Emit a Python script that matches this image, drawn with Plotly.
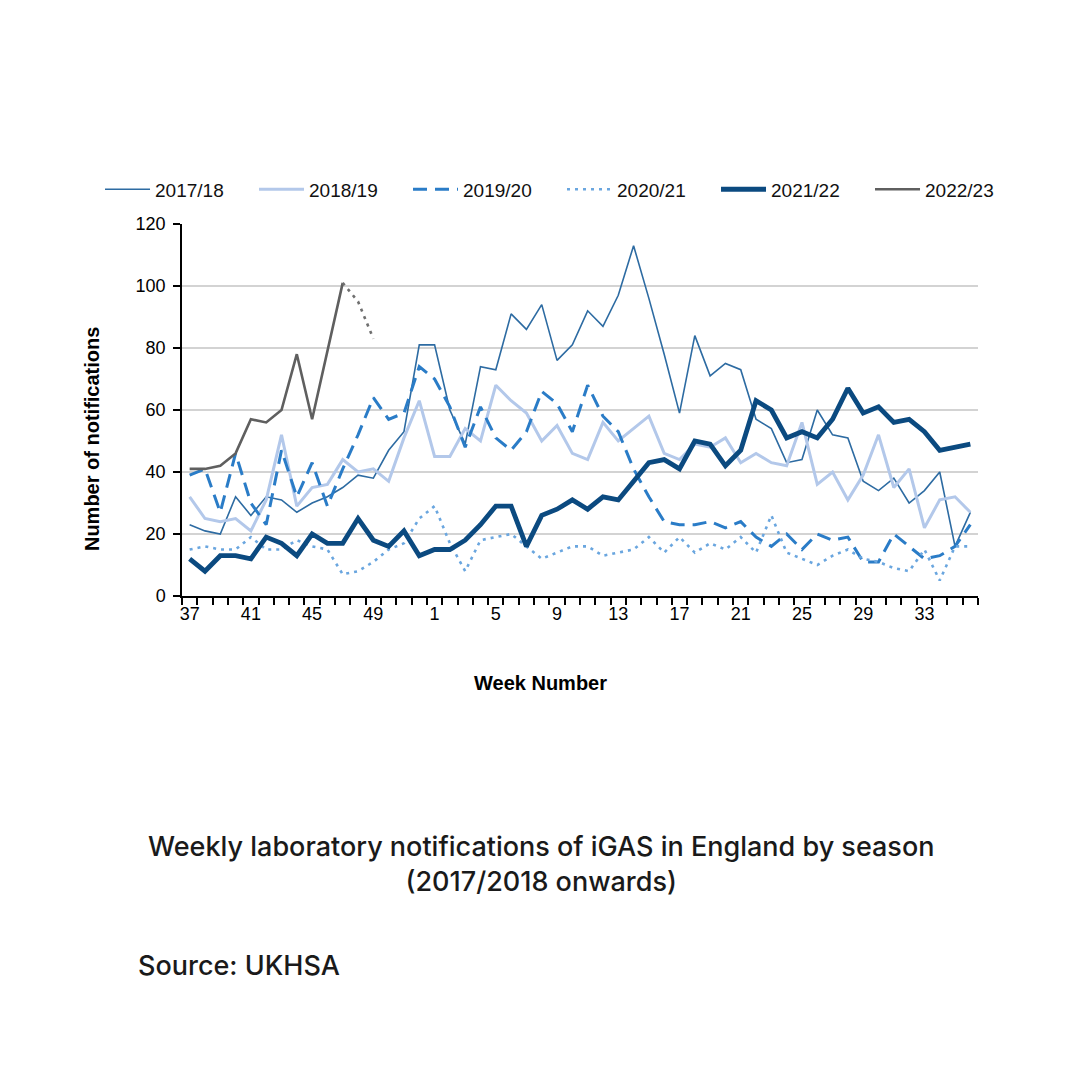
import plotly.graph_objects as go

weeks = list(range(37, 53)) + list(range(1, 37))
tick_weeks = [37, 41, 45, 49, 1, 5, 9, 13, 17, 21, 25, 29, 33]

s2017_18 = [23, 21, 20, 32, 26, 32, 31, 27, 30, 32, 35, 39, 38, 47, 53, 81,
            81, 60, 49, 74, 73, 91, 86, 94, 76, 81, 92, 87, 97, 113, 96, 78,
            59, 84, 71, 75, 73, 57, 54, 43, 44, 60, 52, 51, 37, 34, 38, 30,
            34, 40, 16, 27]
s2018_19 = [32, 25, 24, 25, 21, 31, 52, 29, 35, 36, 44, 40, 41, 37, 51, 63,
            45, 45, 54, 50, 68, 63, 59, 50, 55, 46, 44, 56, 50, 54, 58, 46,
            44, 49, 48, 51, 43, 46, 43, 42, 56, 36, 40, 31, 39, 52, 35, 41,
            22, 31, 32, 27]
s2019_20 = [39, 41, 27, 46, 30, 23, 47, 32, 43, 29, 41, 52, 64, 57, 59, 74,
            70, 61, 48, 61, 51, 47, 53, 66, 62, 53, 68, 58, 53, 41, 32, 24,
            23, 23, 24, 22, 24, 19, 16, 20, 15, 20, 18, 19, 11, 11, 20, 16,
            12, 13, 16, 23]
s2020_21 = [15, 16, 15, 15, 19, 15, 15, 18, 16, 15, 7, 8, 11, 15, 17, 25,
            29, 17, 8, 18, 19, 20, 16, 12, 14, 16, 16, 13, 14, 15, 19, 14,
            19, 14, 17, 15, 19, 14, 26, 14, 12, 10, 13, 15, 12, 11, 9, 8,
            15, 5, 16, 16]
s2021_22 = [12, 8, 13, 13, 12, 19, 17, 13, 20, 17, 17, 25, 18, 16, 21, 13,
            15, 15, 18, 23, 29, 29, 16, 26, 28, 31, 28, 32, 31, 37, 43, 44,
            41, 50, 49, 42, 47, 63, 60, 51, 53, 51, 57, 67, 59, 61, 56, 57,
            53, 47, 48, 49]
s2022_23 = [41, 41, 42, 46, 57, 56, 60, 78, 57, 79, 101]
s2022_23_provisional = [101, 95, 83]

pos = list(range(len(weeks)))
tick_pos = [weeks.index(w) for w in tick_weeks]

fig = go.Figure()

def add(name, y, color, width, dash="solid", start=0, showlegend=True):
    fig.add_trace(go.Scatter(
        x=pos[start:start + len(y)], y=y, mode="lines", name=name,
        line=dict(color=color, width=width, dash=dash),
        showlegend=showlegend, hoverinfo="skip"))

add("2017/18", s2017_18, "#2d6ba2", 1.6)
add("2018/19", s2018_19, "#b3c8ea", 3)
add("2019/20", s2019_20, "#2a7cc7", 3, dash="14px,8px")
add("2020/21", s2020_21, "#6aa6df", 2.6, dash="3px,5px")
add("2021/22", s2021_22, "#0b4a80", 4.8)
add("2022/23", s2022_23, "#5f5f5f", 2.6)
add("2022/23 provisional", s2022_23_provisional, "#6f6f6f", 2.6,
    dash="3px,5px", start=len(s2022_23) - 1, showlegend=False)

axis_font = dict(family="Liberation Sans, Arial, sans-serif", size=18, color="#000000")
title_font = dict(family="Liberation Sans, Arial", size=20, color="#000", weight="bold")
cap_font = dict(family="Inter, Lato, sans-serif", size=27, color="#1a1a1a", weight=500)

fig.update_layout(
    width=1080, height=1080,
    paper_bgcolor="white", plot_bgcolor="white",
    margin=dict(l=182, r=102, t=224, b=484),
    font=axis_font,
    legend=dict(orientation="h", x=-0.103, xanchor="left", y=1.093, yanchor="middle",
                font=dict(family="Liberation Sans, Arial", size=19, color="#111"),
                entrywidth=94, entrywidthmode="pixels", itemwidth=45,
                bgcolor="rgba(0,0,0,0)"),
    xaxis=dict(
        range=[-0.5, len(weeks) - 0.5],
        tickmode="array", tickvals=tick_pos, ticktext=[str(w) for w in tick_weeks],
        ticks="", showgrid=False, zeroline=False,
        showline=True, linecolor="#000", linewidth=2,
        tickfont=axis_font,
        minor=dict(tickmode="array", tickvals=[p - 0.5 for p in pos] + [len(weeks) - 0.5],
                   ticks="outside", ticklen=7, tickwidth=1.5, tickcolor="#000", showgrid=False),
    ),
    yaxis=dict(
        range=[0, 120], dtick=20, tick0=0,
        showgrid=True, gridcolor="#d3d3d3", gridwidth=1.6,
        zeroline=False,
        showline=True, linecolor="#000", linewidth=1.5,
        ticks="outside", ticklen=7, tickwidth=1.5, tickcolor="#000",
        tickfont=axis_font, ticklabelstandoff=4,
    ),
    annotations=[
        dict(text="Week Number", xref="paper", yref="paper", x=0.451, y=-0.234,
             xanchor="center", yanchor="middle", showarrow=False, font=title_font),
        dict(text="Number of notifications", xref="paper", yref="paper", x=-0.113, y=0.422,
             xanchor="center", yanchor="middle", showarrow=False, textangle=-90, font=title_font),
        dict(text="Weekly laboratory notifications of iGAS in England by season<br>(2017/2018 onwards)",
             xref="paper", yref="paper", x=0.451, y=-0.72, xanchor="center", yanchor="middle",
             showarrow=False, align="center", font=cap_font),
        dict(text="Source: UKHSA",
             xref="paper", yref="paper", x=-0.0575, y=-0.992, xanchor="left", yanchor="middle",
             showarrow=False, align="left", font=cap_font),
    ],
)

fig.write_html("out.html")
